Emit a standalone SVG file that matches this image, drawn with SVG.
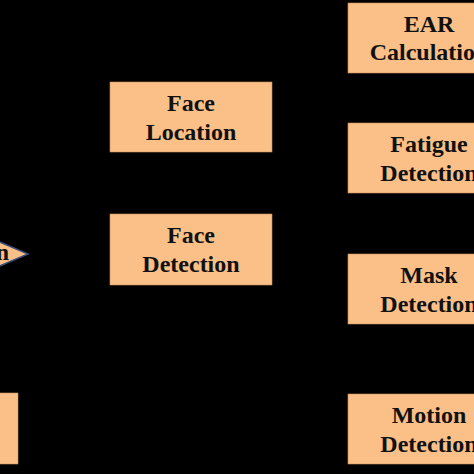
<svg xmlns="http://www.w3.org/2000/svg" width="474" height="474" viewBox="0 0 474 474">
<style>
.box{fill:#FBC088;stroke:#C9925E;stroke-width:0.6}
.lbl{font-family:"Liberation Serif","Times New Roman",serif;font-weight:bold;font-size:24px;fill:#111;text-anchor:middle}
</style>
<rect x="0" y="0" width="474" height="474" fill="#000"/>
<g id="connectors"></g>
<g id="decision">
<polygon points="-80,208.3 28,254 -80,299.7" fill="#FBC088" stroke="#3A4F7A" stroke-width="1.5"/>
<text class="lbl" x="9" y="260" style="text-anchor:end">n</text>
</g>
<g id="left-box">
<rect class="box" x="-60" y="393" width="78" height="71"/>
</g>
<g id="face-location">
<rect class="box" x="110" y="82" width="162" height="70"/>
<text class="lbl" x="191" y="111">Face</text>
<text class="lbl" x="191" y="140">Location</text>
</g>
<g id="face-detection">
<rect class="box" x="110" y="214" width="162" height="71"/>
<text class="lbl" x="191" y="243">Face</text>
<text class="lbl" x="191" y="272">Detection</text>
</g>
<g id="ear-calculation">
<rect class="box" x="348" y="3" width="162" height="70"/>
<text class="lbl" x="429" y="32">EAR</text>
<text class="lbl" x="429" y="60">Calculation</text>
</g>
<g id="fatigue-detection">
<rect class="box" x="348" y="123" width="162" height="70"/>
<text class="lbl" x="429" y="152">Fatigue</text>
<text class="lbl" x="429" y="181">Detection</text>
</g>
<g id="mask-detection">
<rect class="box" x="348" y="254" width="162" height="70"/>
<text class="lbl" x="429" y="283">Mask</text>
<text class="lbl" x="429" y="312">Detection</text>
</g>
<g id="motion-detection">
<rect class="box" x="348" y="394" width="162" height="70"/>
<text class="lbl" x="429" y="423">Motion</text>
<text class="lbl" x="429" y="452">Detection</text>
</g>
</svg>
